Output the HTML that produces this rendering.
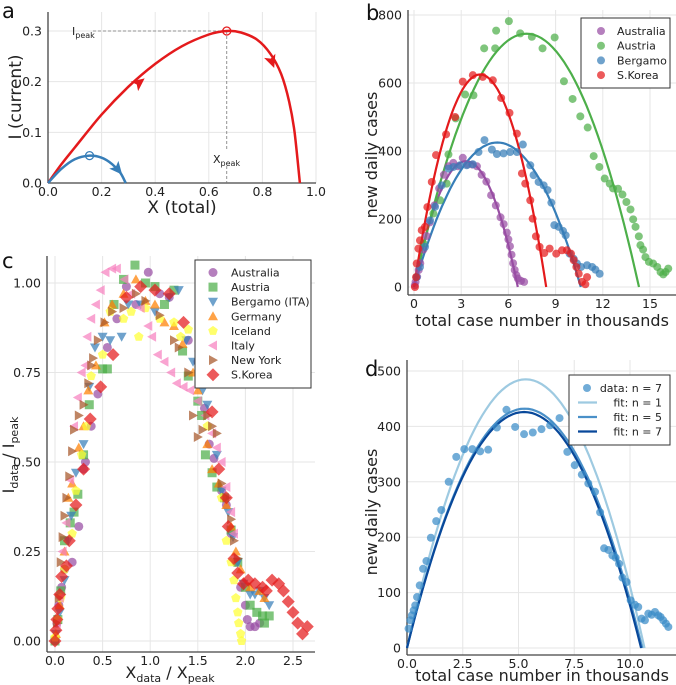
<!DOCTYPE html>
<html><head><meta charset="utf-8"><style>
html,body{margin:0;padding:0;background:#fff;}
svg{display:block;font-family:"DejaVu Sans","Liberation Sans",sans-serif;}
</style></head><body>
<svg id="fig" width="676" height="685" viewBox="0 0 676 685" xmlns="http://www.w3.org/2000/svg"></svg>
<script>
// ---------- Panel a data ----------
const aRedX=[0,0.05,0.1,0.2,0.3,0.4,0.5,0.6,0.667,0.72,0.78,0.83,0.87,0.9,0.92,0.94];
const aRedY=[0,0.037,0.07,0.135,0.19,0.235,0.27,0.293,0.3,0.297,0.283,0.255,0.215,0.16,0.1,0];
const aBlueX=[0,0.05,0.1,0.155,0.2,0.24,0.27,0.29];
const aBlueY=[0,0.028,0.047,0.054,0.05,0.037,0.02,0];
const aXTicks=[0,0.2,0.4,0.6,0.8,1.0];
const aYTicks=[0,0.1,0.2,0.3];

// ---------- Panel b data ----------
const bAusX=[0.05,0.1,0.2,0.3,0.4,0.6,0.8,1.0,1.3,1.6,1.9,2.2,2.5,2.8,3.1,3.4,3.7,4.0,4.3,4.6,4.9,5.2,5.5,5.7,5.9,6.0,6.1,6.2,6.3,6.4,6.5,6.6,6.8,7.0];
const bAusY=[5,15,30,50,70,110,150,190,240,290,330,355,365,355,380,360,360,355,330,310,270,240,205,185,160,140,120,95,70,50,35,25,18,15];
const bAutX=[0.6,1.23,1.66,2.08,2.19,2.65,3.25,3.78,4.46,5.16,5.22,6.03,6.75,7.49,8.17,8.94,9.53,10.08,10.57,11.04,11.42,11.78,12.12,12.44,12.65,12.97,13.25,13.5,13.76,13.93,14.08,14.29,14.39,14.56,14.71,14.93,15.2,15.46,15.67,15.84,15.99,16.16];
const bAutY=[128,216,255,304,390,496,566,564,702,702,754,782,746,736,702,734,605,553,502,469,385,353,319,304,290,289,272,250,228,199,177,149,123,110,88,74,69,59,44,37,44,54];
const bBerX=[0.17,0.38,0.7,1.02,1.34,1.76,2.19,2.51,2.93,3.35,3.74,4.1,4.48,4.95,5.27,5.69,6.11,6.54,6.92,7.39,7.6,7.92,8.24,8.49,8.73,8.92,9.19,9.47,9.64,9.89,10.15,10.36,10.62,11.0,11.32,11.53,11.8];
const bBerY=[29,59,118,196,236,299,348,353,358,358,361,397,432,404,391,393,397,397,419,358,329,309,299,285,248,182,177,165,152,98,83,69,59,64,59,51,39];
const bKorX=[0.06,0.13,0.17,0.28,0.38,0.49,0.7,0.85,1.13,1.4,2.04,2.61,3.1,3.74,4.37,5.01,5.54,6.07,6.54,6.86,7.07,7.39,7.54,7.75,7.98,8.28,8.62,9.04,9.41,9.72,9.98,10.15,10.32,10.47,10.68,10.89,11.0];
const bKorY=[0,29,69,113,137,167,177,235,309,388,449,500,604,623,618,608,556,512,451,334,304,255,201,149,118,100,113,98,108,108,98,79,59,39,15,8,29];
const bFitPeak=[370,745,425,625];
const bFitEnd=[6.6,14.3,10.6,8.4];
const bXTicks=[0,3,6,9,12,15];
const bYTicks=[0,200,400,600,800];
const bNames=["Australia","Austria","Bergamo","S.Korea"];

// ---------- Panel c data ----------
const cAusX=[0,0.02,0.04,0.07,0.1,0.18,0.25,0.3,0.32,0.38,0.45,0.55,0.65,0.75,0.85,0.98,1.1,1.2,1.4,1.5,1.57,1.62,1.67,1.75,1.8,1.85,1.9,1.95,2.0,2.02,2.05,2.1,2.15];
const cAusY=[0,0.05,0.1,0.15,0.2,0.22,0.32,0.48,0.5,0.6,0.69,0.82,0.9,0.99,0.94,1.03,0.97,0.96,0.84,0.78,0.65,0.55,0.51,0.42,0.38,0.3,0.22,0.15,0.1,0.06,0.04,0.04,0.05];
const cAutX=[0,0.03,0.06,0.1,0.16,0.2,0.24,0.3,0.36,0.5,0.55,0.62,0.72,0.84,0.95,1.05,1.15,1.25,1.34,1.4,1.5,1.54,1.58,1.65,1.7,1.78,1.85,1.92,2.0,2.05,2.12,2.18,2.2,2.25];
const cAutY=[0,0.06,0.14,0.28,0.33,0.36,0.41,0.52,0.66,0.76,0.76,0.94,1.01,1.05,1.0,0.99,0.94,0.98,0.81,0.74,0.67,0.63,0.52,0.47,0.43,0.4,0.31,0.22,0.15,0.1,0.08,0.07,0.05,0.07];
const cBerX=[0.01,0.05,0.1,0.14,0.17,0.22,0.3,0.36,0.42,0.5,0.58,0.7,0.77,0.9,1.05,1.2,1.3,1.38,1.45,1.55,1.6,1.7,1.75,1.82,1.87,1.92,1.98,2.05,2.1,2.15,2.2,2.25];
const cBerY=[0.02,0.08,0.17,0.28,0.35,0.47,0.55,0.71,0.82,0.85,0.84,0.85,0.94,0.94,0.92,0.96,0.98,0.84,0.78,0.7,0.66,0.52,0.42,0.36,0.29,0.22,0.16,0.13,0.13,0.14,0.12,0.1];
const cGerX=[0.01,0.05,0.1,0.14,0.18,0.25,0.3,0.35,0.43,0.52,0.6,0.72,0.85,0.95,1.05,1.15,1.25,1.34,1.45,1.5,1.6,1.65,1.72,1.8,1.85,1.9,1.95,2.05,2.15,2.2];
const cGerY=[0.02,0.1,0.25,0.4,0.44,0.54,0.6,0.7,0.77,0.89,0.94,0.97,1.01,0.95,0.94,0.89,0.88,0.83,0.75,0.7,0.55,0.48,0.44,0.38,0.32,0.25,0.2,0.15,0.14,0.12];
const cIceX=[0,0.03,0.06,0.1,0.18,0.22,0.28,0.33,0.38,0.5,0.58,0.72,0.8,0.88,0.95,1.1,1.25,1.32,1.4,1.6,1.75,1.8,1.85,1.88,1.9,1.92,1.93,1.95,1.96];
const cIceY=[0.01,0.06,0.12,0.2,0.3,0.42,0.52,0.6,0.74,0.8,0.92,0.9,0.92,0.85,0.93,0.9,0.89,0.85,0.87,0.6,0.4,0.28,0.22,0.17,0.12,0.08,0.05,0.02,0.0];
const cItaX=[0.02,0.05,0.08,0.12,0.16,0.2,0.24,0.28,0.32,0.34,0.38,0.43,0.48,0.53,0.6,0.65,0.73,0.8,0.9,0.98,1.02,1.08,1.15,1.22,1.28,1.35,1.42,1.5,1.58,1.65,1.7,1.75,1.8,1.85,1.88];
const cItaY=[0.05,0.12,0.25,0.33,0.45,0.6,0.68,0.75,0.77,0.85,0.9,0.94,0.98,1.03,1.04,1.04,1.01,0.97,0.93,0.88,0.85,0.8,0.78,0.75,0.72,0.71,0.7,0.67,0.63,0.58,0.54,0.5,0.43,0.36,0.3];
const cNYX=[0.02,0.04,0.06,0.08,0.1,0.12,0.15,0.18,0.2,0.25,0.3,0.35,0.38,0.4,0.45,0.52,0.6,0.72,0.85,0.95,1.1,1.25,1.3,1.4,1.45,1.5,1.55,1.6,1.65,1.7,1.75,1.8,1.85,1.88,1.92];
const cNYY=[0.05,0.12,0.22,0.29,0.35,0.4,0.46,0.53,0.59,0.63,0.66,0.72,0.77,0.79,0.84,0.89,0.92,0.93,0.97,0.95,0.91,0.84,0.82,0.75,0.63,0.57,0.59,0.63,0.6,0.58,0.44,0.4,0.34,0.28,0.23];
const cKorX=[0,0.01,0.02,0.03,0.05,0.07,0.12,0.15,0.22,0.3,0.37,0.48,0.61,0.75,0.9,1.05,1.2,1.35,1.53,1.65,1.72,1.8,1.82,1.88,1.92,1.98,2.03,2.1,2.18,2.22,2.28,2.35,2.4,2.45,2.5,2.55,2.6,2.65];
const cKorY=[0,0.03,0.06,0.09,0.13,0.18,0.21,0.28,0.38,0.48,0.62,0.71,0.8,0.96,0.99,0.98,0.97,0.89,0.81,0.64,0.48,0.4,0.32,0.23,0.19,0.16,0.17,0.16,0.15,0.14,0.17,0.16,0.14,0.11,0.08,0.05,0.02,0.04];
const cNames=["Australia","Austria","Bergamo (ITA)","Germany","Iceland","Italy","New York","S.Korea"];
const cXTicks=[0,0.5,1.0,1.5,2.0,2.5];
const cYTicks=[0,0.25,0.5,0.75,1.0];

// ---------- Panel d data ----------
const dX=[0.07,0.15,0.22,0.3,0.37,0.45,0.57,0.72,0.87,1.07,1.31,1.54,1.87,2.21,2.57,2.93,3.28,3.64,4.03,4.46,4.85,5.25,5.64,6.03,6.42,6.84,7.19,7.52,7.84,8.13,8.43,8.66,8.84,9.03,9.21,9.36,9.51,9.66,9.85,10.03,10.22,10.37,10.52,10.67,10.82,10.97,11.12,11.27,11.37,11.49,11.61,11.72];
const dY=[35,50,59,68,77,92,113,143,157,199,229,249,300,345,359,359,355,358,398,430,399,386,389,395,402,415,354,330,313,297,282,245,180,177,167,163,152,127,119,86,78,74,53,50,62,60,65,59,56,50,44,38];
const dFitPeak=[485,432,426];
const dFitEnd=[10.65,10.55,10.5];
const dFitLabels=["fit: n = 1","fit: n = 5","fit: n = 7"];
const dXTicks=[0,2.5,5.0,7.5,10.0];
const dYTicks=[0,100,200,300,400,500];

const NS="http://www.w3.org/2000/svg";
const svg=document.getElementById('fig');
function el(tag,attrs,parent,text){const e=document.createElementNS(NS,tag);for(const k in attrs)e.setAttribute(k,attrs[k]);if(text!==undefined)e.textContent=text;(parent||svg).appendChild(e);return e;}
function lin(d0,d1,r0,r1){return v=>r0+(v-d0)*(r1-r0)/(d1-d0);}
function group(name){const g=el('g',{},svg);return g;}

function axes(g,o){
  o.xt.forEach(t=>{const x=o.sx(t);el('line',{x1:x,x2:x,y1:o.top,y2:o.bottom,stroke:'#e6e6e6','stroke-width':1},g);});
  o.yt.forEach(t=>{const y=o.sy(t);el('line',{x1:o.left,x2:o.right,y1:y,y2:y,stroke:'#e6e6e6','stroke-width':1},g);});
  el('line',{x1:o.left,x2:o.left,y1:o.top,y2:o.bottom,stroke:'#444','stroke-width':1.3},g);
  el('line',{x1:o.left,x2:o.right,y1:o.bottom,y2:o.bottom,stroke:'#444','stroke-width':1.3},g);
  const xg=group(o.p+'-x-ticks');
  o.xt.forEach(t=>{const x=o.sx(t);const tx=el('text',{x:x,y:o.bottom+13,'font-size':12.5,'text-anchor':'middle',fill:'#222'},xg,o.xf(t));});
  const yg=group(o.p+'-y-ticks');
  o.yt.forEach(t=>{const y=o.sy(t);const tx=el('text',{x:o.left-6,y:y+4.5,'font-size':12.5,'text-anchor':'end',fill:'#222'},yg,o.yf(t));});
}
function path(xs,ys,sx,sy){return xs.map((x,i)=>(i?'L':'M')+sx(x).toFixed(1)+','+sy(ys[i]).toFixed(1)).join('');}
function smooth(xs,ys,sx,sy){
  const P=xs.map((x,i)=>[sx(x),sy(ys[i])]);
  let d='M'+P[0][0].toFixed(1)+','+P[0][1].toFixed(1);
  for(let i=0;i<P.length-1;i++){
    const p0=P[Math.max(0,i-1)],p1=P[i],p2=P[i+1],p3=P[Math.min(P.length-1,i+2)];
    const c1=[p1[0]+(p2[0]-p0[0])/6,p1[1]+(p2[1]-p0[1])/6];
    const c2=[p2[0]-(p3[0]-p1[0])/6,p2[1]-(p3[1]-p1[1])/6];
    d+=`C${c1[0].toFixed(1)},${c1[1].toFixed(1)} ${c2[0].toFixed(1)},${c2[1].toFixed(1)} ${p2[0].toFixed(1)},${p2[1].toFixed(1)}`;
  }
  return d;
}
function marker(g,shape,x,y,color,s){
  let e;
  const a={fill:color,'fill-opacity':0.72};
  if(shape==='circle'){e=el('circle',Object.assign({cx:x,cy:y,r:s},a),g);}
  else if(shape==='square'){e=el('rect',Object.assign({x:x-s,y:y-s,width:2*s,height:2*s},a),g);}
  else if(shape==='diamond'){e=el('polygon',Object.assign({points:`${x},${y-s*1.3} ${x+s*1.3},${y} ${x},${y+s*1.3} ${x-s*1.3},${y}`},a),g);}
  else if(shape==='down'){e=el('polygon',Object.assign({points:`${x-s},${y-s*0.8} ${x+s},${y-s*0.8} ${x},${y+s}`},a),g);}
  else if(shape==='up'){e=el('polygon',Object.assign({points:`${x-s},${y+s*0.8} ${x+s},${y+s*0.8} ${x},${y-s}`},a),g);}
  else if(shape==='left'){e=el('polygon',Object.assign({points:`${x+s*0.8},${y-s} ${x+s*0.8},${y+s} ${x-s},${y}`},a),g);}
  else if(shape==='right'){e=el('polygon',Object.assign({points:`${x-s*0.8},${y-s} ${x-s*0.8},${y+s} ${x+s},${y}`},a),g);}
  else if(shape==='pent'){let p=[];for(let k=0;k<5;k++){const an=-Math.PI/2+k*2*Math.PI/5;p.push((x+s*Math.cos(an)).toFixed(1)+','+(y+s*Math.sin(an)).toFixed(1));}e=el('polygon',Object.assign({points:p.join(' ')},a),g);}
  
  
  return e;
}
function parabola(P,L,sx,sy){let xs=[],ys=[];for(let i=0;i<=60;i++){const x=L*i/60;xs.push(x);ys.push(4*P*(x/L)*(1-x/L));}return path(xs,ys,sx,sy);}

// ================= Panel a =================
(function(){
  const g=group('panel-a');
  const sx=lin(0,1,48,316), sy=lin(0,0.3,183,31);
  axes(g,{p:'a',sx,sy,xt:aXTicks,yt:aYTicks,left:48,right:316,top:12,bottom:183,xf:t=>t.toFixed(1),yf:t=>t.toFixed(1)});
  el('line',{x1:93,x2:sx(0.667),y1:sy(0.3),y2:sy(0.3),stroke:'#777','stroke-dasharray':'3,2','stroke-width':0.8},g);
  el('line',{x1:sx(0.667),x2:sx(0.667),y1:sy(0.3),y2:150,stroke:'#777','stroke-dasharray':'3,2','stroke-width':0.8},g);
  el('line',{x1:sx(0.667),x2:sx(0.667),y1:166,y2:183,stroke:'#777','stroke-dasharray':'3,2','stroke-width':0.8},g);
  const ip=el('text',{x:72,y:35,'font-size':11,fill:'#222'},g);ip.innerHTML='I<tspan font-size="8" dy="3">peak</tspan>';
  
  const xp=el('text',{x:213,y:163,'font-size':11,fill:'#222'},g);xp.innerHTML='X<tspan font-size="8" dy="3">peak</tspan>';
  
  const r=el('path',{d:smooth(aRedX,aRedY,sx,sy),fill:'none',stroke:'#e41a1c','stroke-width':2.5},g);
  
  const b=el('path',{d:smooth(aBlueX,aBlueY,sx,sy),fill:'none',stroke:'#377eb8','stroke-width':2.5},g);
  
  function arrow(x,y,ang,c){const t=el('polygon',{points:'7,0 -6,-6 -3,0 -6,6',fill:c,transform:`translate(${sx(x)},${sy(y)}) rotate(${ang})`},g);}
  arrow(0.34,0.198,-38,'#e41a1c');arrow(0.835,0.24,70,'#e41a1c');arrow(0.26,0.027,50,'#377eb8');
  el('circle',{cx:sx(0.667),cy:sy(0.3),r:4,fill:'none',stroke:'#e41a1c','stroke-width':1.3},g);
  el('circle',{cx:sx(0.155),cy:sy(0.054),r:4,fill:'none',stroke:'#377eb8','stroke-width':1.3},g);
  const xt=el('text',{x:182,y:213,'font-size':17,'text-anchor':'middle',fill:'#222'},g,'X (total)');
  const yt=el('text',{x:0,y:0,'font-size':17,'text-anchor':'middle',fill:'#222',transform:'translate(21,97) rotate(-90)'},g,'I (current)');
  const lt=el('text',{x:2,y:18,'font-size':21,fill:'#111'},g,'a');
})();

// ================= Panel b =================
(function(){
  const g=group('panel-b');
  const sx=lin(0,15,414,650), sy=lin(0,800,287,15);
  axes(g,{p:'b',sx,sy,xt:bXTicks,yt:bYTicks,left:408,right:676,top:10,bottom:295,xf:t=>String(t),yf:t=>String(t)});
  const cols=['#984ea3','#4daf4a','#377eb8','#e41a1c'];
  const xs=[bAusX,bAutX,bBerX,bKorX], ys=[bAusY,bAutY,bBerY,bKorY];
  xs.forEach((X,k)=>{const sg=group('series-'+bNames[k].toLowerCase().replace('.',''));X.forEach((x,i)=>marker(sg,'circle',sx(x),sy(ys[k][i]),cols[k],4));});
  bFitPeak.forEach((P,k)=>{const f=el('path',{d:parabola(P,bFitEnd[k],sx,sy),fill:'none',stroke:cols[k],'stroke-width':2.2},g);});
  const lg=group('legend');
  el('rect',{x:581,y:18,width:89,height:70,fill:'#fff',stroke:'#333','stroke-width':1},lg);
  bNames.forEach((n,k)=>{const y=31+k*14.7;const c=el('circle',{cx:601,cy:y,r:4,fill:cols[k],'fill-opacity':0.72},lg);
    const t=el('text',{x:617,y:y+4,'font-size':11,fill:'#222'},lg,n);});
  const xt=el('text',{x:542,y:326,'font-size':16,'text-anchor':'middle',fill:'#222'},g,'total case number in thousands');
  const yt=el('text',{x:0,y:0,'font-size':16,'text-anchor':'middle',fill:'#222',transform:'translate(377,155) rotate(-90)'},g,'new daily cases');
  const lt=el('text',{x:366,y:20,'font-size':21,fill:'#111'},g,'b');
})();

// ================= Panel c =================
(function(){
  const g=group('panel-c');
  const sx=lin(0,2.5,55,293), sy=lin(0,1,641,283);
  axes(g,{p:'c',sx,sy,xt:cXTicks,yt:cYTicks,left:47,right:315,top:256,bottom:652,xf:t=>t.toFixed(1),yf:t=>t.toFixed(2)});
  const cols=['#984ea3','#4daf4a','#377eb8','#ff7f00','#ffff33','#f781bf','#a65628','#e41a1c'];
  const shapes=['circle','square','down','up','pent','left','right','diamond'];
  const sizes=[4.5,4.5,5,5,5,5,5,5];
  const xs=[cAusX,cAutX,cBerX,cGerX,cIceX,cItaX,cNYX,cKorX], ys=[cAusY,cAutY,cBerY,cGerY,cIceY,cItaY,cNYY,cKorY];
  xs.forEach((X,k)=>{const sg=group('series-'+cNames[k].toLowerCase().replace(/[^a-z]+/g,'-'));X.forEach((x,i)=>marker(sg,shapes[k],sx(x),sy(ys[k][i]),cols[k],sizes[k]));});
  const lg=group('legend');
  el('rect',{x:195,y:260,width:116,height:128,fill:'#fff',stroke:'#333','stroke-width':1},lg);
  cNames.forEach((n,k)=>{const y=272.5+k*14.6;marker(lg,shapes[k],213,y,cols[k],sizes[k]);
    const t=el('text',{x:231,y:y+4,'font-size':11,fill:'#222'},lg,n);});
  const xt=el('text',{x:170,y:678,'font-size':16,'text-anchor':'middle',fill:'#222'},g);xt.innerHTML='X<tspan font-size="11" dy="4">data</tspan><tspan dy="-4"> / X</tspan><tspan font-size="11" dy="4">peak</tspan>';
  
  const yt=el('text',{x:0,y:0,'font-size':16,'text-anchor':'middle',fill:'#222',transform:'translate(14,455) rotate(-90)'},g);yt.innerHTML='I<tspan font-size="11" dy="4">data</tspan><tspan dy="-4"> / I</tspan><tspan font-size="11" dy="4">peak</tspan>';
  
  const lt=el('text',{x:2,y:268,'font-size':21,fill:'#111'},g,'c');
})();

// ================= Panel d =================
(function(){
  const g=group('panel-d');
  const sx=lin(0,10,407,630), sy=lin(0,500,648,371);
  axes(g,{p:'d',sx,sy,xt:dXTicks,yt:dYTicks,left:407,right:676,top:360,bottom:655,xf:t=>t.toFixed(1),yf:t=>String(t)});
  const sg=group('series-data');
  dX.forEach((x,i)=>marker(sg,'circle',sx(x),sy(dY[i]),'#3a8cc8',4));
  const fc=['#9ecae1','#4a90c8','#08489a'];
  dFitPeak.forEach((P,k)=>{const f=el('path',{d:parabola(P,dFitEnd[k],sx,sy),fill:'none',stroke:fc[k],'stroke-width':2.2},g);});
  const lg=group('legend');
  el('rect',{x:569,y:375,width:101,height:70,fill:'#fff',stroke:'#333','stroke-width':1},lg);
  const c=el('circle',{cx:587,cy:388,r:4,fill:'#3a8cc8','fill-opacity':0.72},lg);
  const t0=el('text',{x:662,y:392,'font-size':11,'text-anchor':'end',fill:'#222'},lg,'data: n = 7');
  dFitLabels.forEach((n,k)=>{const y=402.5+k*14.5;el('line',{x1:578,x2:597,y1:y,y2:y,stroke:fc[k],'stroke-width':2.2},lg);
    const t=el('text',{x:662,y:y+4,'font-size':11,'text-anchor':'end',fill:'#222'},lg,n);});
  const xt=el('text',{x:542,y:681,'font-size':16,'text-anchor':'middle',fill:'#222'},g,'total case number in thousands');
  const yt=el('text',{x:0,y:0,'font-size':16,'text-anchor':'middle',fill:'#222',transform:'translate(377,512) rotate(-90)'},g,'new daily cases');
  const lt=el('text',{x:365,y:376,'font-size':21,fill:'#111'},g,'d');
})();
</script>
</body></html>
